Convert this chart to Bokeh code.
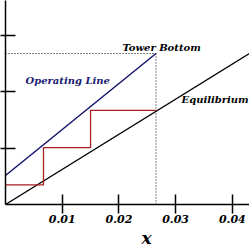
from bokeh.plotting import figure
from bokeh.models import FixedTicker, Title
from bokeh.core.properties import value
from bokeh.embed import file_html
from bokeh.resources import INLINE

# data
x_ticks = [0.01, 0.02, 0.03, 0.04]
x_tick_labels = ["0.01", "0.02", "0.03", "0.04"]
y_ticks = [0.01, 0.02, 0.03]

eq_x = [0.0, 0.0430]
eq_y = [0.0, 0.0268]

op_x = [0.0, 0.02654]
op_y = [0.00515, 0.02682]

stair_x = [0.0, 0.0067, 0.0067, 0.0150, 0.0150, 0.02654]
stair_y = [0.0035, 0.0035, 0.0101, 0.0101, 0.0167, 0.0167]

tb_x = 0.02654
tb_y = 0.02682

SERIF = "DejaVu Serif"

p = figure(width=249, height=249, x_range=(0, 0.04303), y_range=(0, 0.03623),
           output_backend="svg", toolbar_location=None,
           min_border_left=5, min_border_right=0, min_border_top=0, min_border_bottom=45)
p.outline_line_color = None
p.grid.visible = False
p.background_fill_color = "white"
p.border_fill_color = "white"

xa = p.xaxis[0]
xa.ticker = FixedTicker(ticks=x_ticks)
xa.major_label_overrides = {t: l for t, l in zip(x_ticks, x_tick_labels)}
xa.major_tick_in = 10
xa.major_tick_out = 9
xa.minor_tick_line_color = None
xa.axis_line_width = 1.5
xa.major_tick_line_width = 1.5
xa.major_label_standoff = 1
xa.major_label_text_font = SERIF
xa.major_label_text_font_style = "bold italic"
xa.major_label_text_font_size = "11px"
xa.major_label_text_color = "black"

ya = p.yaxis[0]
ya.ticker = FixedTicker(ticks=y_ticks)
ya.major_tick_in = 10
ya.major_tick_out = 5
ya.minor_tick_line_color = None
ya.axis_line_width = 1.5
ya.major_tick_line_width = 1.5
ya.major_label_overrides = {t: "" for t in y_ticks}
ya.major_label_standoff = 0

# dotted guides to tower bottom
p.line([0, tb_x], [tb_y, tb_y], line_color="black", line_width=1, line_dash="1 2")
p.line([tb_x, tb_x], [tb_y, 0], line_color="black", line_width=1, line_dash="1 2")

p.line(eq_x, eq_y, line_color="black", line_width=1.3)
p.line(op_x, op_y, line_color="#14146a", line_width=1.5)
p.line(stair_x, stair_y, line_color="#a82020", line_width=1.3)

p.text(x=[0.00353], y=[0.02202], text=["Operating Line"], text_font=value(SERIF),
       text_font_style="bold italic", text_font_size="10px", text_color="#1a1a70",
       text_baseline="middle", text_align="left")
p.text(x=[0.02063], y=[0.02789], text=["Tower Bottom"], text_font=value(SERIF),
       text_font_style="bold italic", text_font_size="10px", text_color="black",
       text_baseline="middle", text_align="left")
p.text(x=[0.03104], y=[0.01865], text=["Equilibrium"], text_font=value(SERIF),
       text_font_style="bold italic", text_font_size="10px", text_color="black",
       text_baseline="middle", text_align="left")

p.add_layout(Title(text="x", align="left", offset=136, standoff=0,
                   text_font=SERIF, text_font_style="bold italic",
                   text_font_size="17px", text_color="black"), "below")

open("out.html", "w").write(file_html(p, INLINE))
